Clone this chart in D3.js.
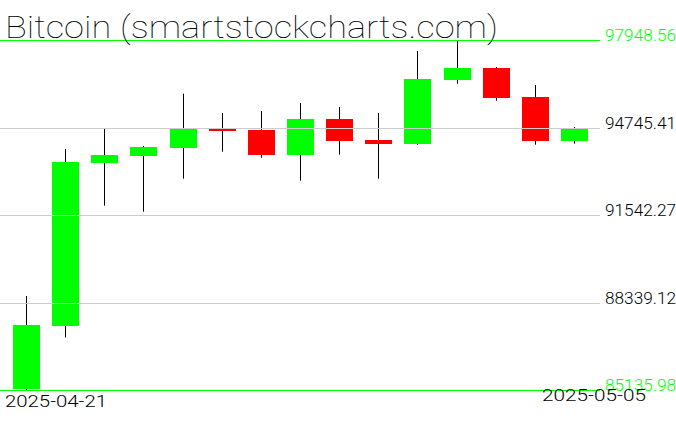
<!DOCTYPE html>
<html><head><meta charset="utf-8">
<script src="https://cdn.jsdelivr.net/npm/d3@7"></script>
<style>body{margin:0;background:#fff}svg{display:block}</style>
</head><body>
<script>
const dates = ["2025-04-21","2025-04-22","2025-04-23","2025-04-24","2025-04-25","2025-04-26","2025-04-27","2025-04-28","2025-04-29","2025-04-30","2025-05-01","2025-05-02","2025-05-03","2025-05-04","2025-05-05"];
const opens  = [85170, 87480, 93457, 93713, 94006, 94690, 94654, 93739, 95057, 94288, 94152, 96495, 96924, 95862, 94262];
const highs  = [88577, 93958, 94690, 94068, 95983, 95276, 95349, 95642, 95496, 95276, 97546, 97948.56, 96960, 96301, 94764];
const lows   = [85135.98, 87058, 91883, 91663, 92871, 93859, 93640, 92797, 93750, 92871, 94116, 96348, 95726, 94116, 94152];
const closes = [87516, 93483, 93739, 94032, 94690, 94628, 93739, 95057, 94262, 94152, 96521, 96924, 95836, 94262, 94690];
const yTicks = [85135.98, 88339.12, 91542.27, 94745.41, 97948.56];
const yTickLabels = ["85135.98", "88339.12", "91542.27", "94745.41", "97948.56"];
const xLabels = ["2025-04-21", "2025-05-05"];
const title = "Bitcoin (smartstockcharts.com)";

const W = 676, H = 431;
const svg = d3.select("body").append("svg").attr("width", W).attr("height", H);

const x = d3.scalePoint().domain(dates).range([26.5, 574.5]);
const y = d3.scaleLinear().domain([yTicks[0], yTicks[yTicks.length-1]]).range([390, 40]);
const bw = 27;

const data = dates.map((d,i)=>({d, o:opens[i], h:highs[i], l:lows[i], c:closes[i]}));

// wicks
svg.append("g").selectAll("line").data(data).join("line")
  .attr("x1", d=>Math.floor(x(d.d))+0.5).attr("x2", d=>Math.floor(x(d.d))+0.5)
  .attr("y1", d=>y(d.h)).attr("y2", d=>y(d.l))
  .attr("stroke", "#000").attr("stroke-width", 1);

// bodies
svg.append("g").selectAll("rect").data(data).join("rect")
  .attr("x", d=>Math.round(x(d.d)-bw/2))
  .attr("width", bw)
  .attr("y", d=>Math.round(y(Math.max(d.o,d.c))))
  .attr("height", d=>Math.max(2, Math.round(Math.abs(y(d.o)-y(d.c)))))
  .attr("fill", d=>d.c>=d.o ? "#00ff00" : "#ff0000")
  .attr("shape-rendering","crispEdges");

// gridlines
const grid = svg.append("g");
grid.selectAll("line").data(yTicks).join("line")
  .attr("x1", 0).attr("x2", 600)
  .attr("y1", d=>Math.round(y(d))+0.5).attr("y2", d=>Math.round(y(d))+0.5)
  .attr("stroke", (d,i)=> (i===0||i===yTicks.length-1) ? "#00ff00" : "#cccccc")
  .attr("stroke-width", 1);

const labelFont = "Roboto, DejaVu Sans, sans-serif";

// y labels
svg.append("g").selectAll("text").data(yTicks).join("text")
  .attr("x", 605).attr("y", d=>Math.round(y(d))+1)
  .attr("font-family", labelFont).attr("font-weight", 300)
  .attr("font-size", 16)
  .attr("textLength", 71).attr("lengthAdjust","spacingAndGlyphs")
  .attr("fill", (d,i)=> (i===0||i===yTicks.length-1) ? "#00ff00" : "#000")
  .text((d,i)=>yTickLabels[i]);

// x labels
svg.append("text").attr("x", 5).attr("y", 407)
  .attr("font-family", labelFont).attr("font-weight", 300).attr("font-size", 17)
  .attr("textLength", 102).attr("lengthAdjust","spacingAndGlyphs")
  .attr("fill","#000").text(xLabels[0]);
svg.append("text").attr("x", 542).attr("y", 401)
  .attr("font-family", labelFont).attr("font-weight", 300).attr("font-size", 17)
  .attr("textLength", 104).attr("lengthAdjust","spacingAndGlyphs")
  .attr("fill","#000").text(xLabels[1]);

// title
svg.append("text").attr("x", 5).attr("y", 38)
  .attr("font-family", "Roboto, DejaVu Sans, sans-serif").attr("font-weight", 100)
  .attr("font-size", 32)
  .attr("textLength", 493).attr("lengthAdjust","spacingAndGlyphs")
  .attr("fill","#000").text(title);
</script>
</body></html>
